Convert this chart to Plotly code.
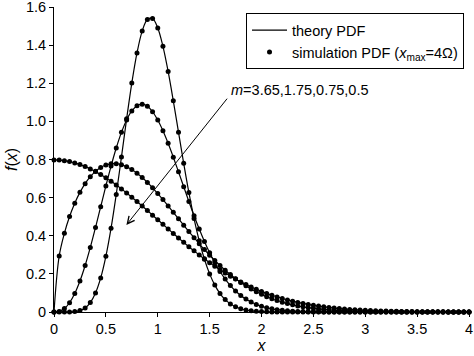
import plotly.graph_objects as go

# x grid (normalised envelope, Omega = 1)
x = [0.0, 0.05, 0.1, 0.15, 0.2, 0.25, 0.3, 0.35, 0.4, 0.45,
     0.5, 0.55, 0.6, 0.65, 0.7, 0.75, 0.8, 0.85, 0.9, 0.95,
     1.0, 1.05, 1.1, 1.15, 1.2, 1.25, 1.3, 1.35, 1.4, 1.45,
     1.5, 1.55, 1.6, 1.65, 1.7, 1.75, 1.8, 1.85, 1.9, 1.95,
     2.0, 2.05, 2.1, 2.15, 2.2, 2.25, 2.3, 2.35, 2.4, 2.45,
     2.5, 2.55, 2.6, 2.65, 2.7, 2.75, 2.8, 2.85, 2.9, 2.95,
     3.0, 3.05, 3.1, 3.15, 3.2, 3.25, 3.3, 3.35, 3.4, 3.45,
     3.5, 3.55, 3.6, 3.65, 3.7, 3.75, 3.8, 3.85, 3.9, 3.95,
     4.0]

pdf_m050 = [0.7979, 0.7969, 0.7939, 0.7890, 0.7821, 0.7733, 0.7628, 0.7505, 0.7365, 0.7211,
            0.7041, 0.6859, 0.6664, 0.6459, 0.6245, 0.6023, 0.5794, 0.5560, 0.5322, 0.5081,
            0.4839, 0.4598, 0.4357, 0.4119, 0.3884, 0.3653, 0.3427, 0.3208, 0.2995, 0.2789,
            0.2590, 0.2400, 0.2218, 0.2045, 0.1881, 0.1726, 0.1579, 0.1441, 0.1312, 0.1192,
            0.1080, 0.0976, 0.0880, 0.0791, 0.0709, 0.0635, 0.0567, 0.0504, 0.0448, 0.0397,
            0.0351, 0.0309, 0.0272, 0.0238, 0.0208, 0.0182, 0.0158, 0.0137, 0.0119, 0.0103,
            0.0089, 0.0076, 0.0065, 0.0056, 0.0048, 0.0041, 0.0034, 0.0029, 0.0025, 0.0021,
            0.0017, 0.0015, 0.0012, 0.0010, 0.0008, 0.0007, 0.0006, 0.0005, 0.0004, 0.0003,
            0.0003]

pdf_m075 = [0.0, 0.2936, 0.4128, 0.5009, 0.5709, 0.6276, 0.6734, 0.7099, 0.7378, 0.7580,
            0.7711, 0.7775, 0.7778, 0.7725, 0.7620, 0.7471, 0.7280, 0.7054, 0.6797, 0.6516,
            0.6213, 0.5896, 0.5567, 0.5231, 0.4893, 0.4556, 0.4222, 0.3896, 0.3578, 0.3273,
            0.2980, 0.2702, 0.2439, 0.2193, 0.1963, 0.1750, 0.1554, 0.1374, 0.1209, 0.1061,
            0.0926, 0.0805, 0.0698, 0.0602, 0.0517, 0.0443, 0.0377, 0.0320, 0.0271, 0.0228,
            0.0192, 0.0160, 0.0133, 0.0110, 0.0091, 0.0075, 0.0061, 0.0050, 0.0041, 0.0033,
            0.0027, 0.0021, 0.0017, 0.0014, 0.0011, 0.0009, 0.0007, 0.0005, 0.0004, 0.0003,
            0.0002, 0.0002, 0.0001, 0.0001, 0.0001, 0.0001, 0.0, 0.0, 0.0, 0.0,
            0.0]

pdf_m175 = [0.0, 0.0032, 0.0180, 0.0485, 0.0966, 0.1623, 0.2440, 0.3389, 0.4431, 0.5522,
            0.6614, 0.7656, 0.8605, 0.9423, 1.0077, 1.0547, 1.0822, 1.0900, 1.0789, 1.0505,
            1.0069, 0.9507, 0.8848, 0.8122, 0.7354, 0.6573, 0.5799, 0.5053, 0.4352, 0.3703,
            0.3112, 0.2588, 0.2126, 0.1728, 0.1389, 0.1104, 0.0869, 0.0677, 0.0522, 0.0396,
            0.0299, 0.0223, 0.0165, 0.0121, 0.0087, 0.0063, 0.0044, 0.0031, 0.0022, 0.0015,
            0.0010, 0.0007, 0.0004, 0.0003, 0.0002, 0.0001, 0.0001, 0.0, 0.0, 0.0,
            0.0, 0.0, 0.0, 0.0, 0.0, 0.0, 0.0, 0.0, 0.0, 0.0,
            0.0, 0.0, 0.0, 0.0, 0.0, 0.0, 0.0, 0.0, 0.0, 0.0,
            0.0]

pdf_m365 = [0.0, 0.0, 0.0, 0.0003, 0.0020, 0.0074, 0.0210, 0.0492, 0.0995, 0.1789,
            0.2921, 0.4397, 0.6167, 0.8128, 1.0133, 1.2011, 1.3593, 1.4737, 1.5349, 1.5395,
            1.4900, 1.3938, 1.2621, 1.1076, 0.9431, 0.7800, 0.6270, 0.4903, 0.3733, 0.2768,
            0.2000, 0.1410, 0.0969, 0.0650, 0.0426, 0.0272, 0.0170, 0.0104, 0.0062, 0.0036,
            0.0021, 0.0012, 0.0006, 0.0003, 0.0002, 0.0001, 0.0, 0.0, 0.0, 0.0,
            0.0, 0.0, 0.0, 0.0, 0.0, 0.0, 0.0, 0.0, 0.0, 0.0,
            0.0, 0.0, 0.0, 0.0, 0.0, 0.0, 0.0, 0.0, 0.0, 0.0,
            0.0, 0.0, 0.0, 0.0, 0.0, 0.0, 0.0, 0.0, 0.0, 0.0,
            0.0]

series = [pdf_m365, pdf_m175, pdf_m075, pdf_m050]

y_tickvals = [0, 0.2, 0.4, 0.6, 0.8, 1.0, 1.2, 1.4, 1.6]
y_ticktext = ["0", "0.2", "0.4", "0.6", "0.8", "1.0", "1.2", "1.4", "1.6"]
x_tickvals = [0, 0.5, 1, 1.5, 2, 2.5, 3, 3.5, 4]
x_ticktext = ["0", "0.5", "1", "1.5", "2", "2.5", "3", "3.5", "4"]

FONT = "Liberation Sans, Arial, sans-serif"
FS = 14.5

fig = go.Figure()
for i, s in enumerate(series):
    fig.add_trace(go.Scatter(
        x=x, y=s, mode="lines", line=dict(color="black", width=1.2, shape="spline"),
        name="theory PDF", showlegend=(i == 0), legendrank=1, cliponaxis=False))
for i, s in enumerate(series):
    fig.add_trace(go.Scatter(
        x=x, y=s, mode="markers", marker=dict(color="black", size=5),
        name="simulation PDF (<i>x</i><sub>max</sub>=4Ω)", showlegend=(i == 0),
        legendrank=2, cliponaxis=False))

fig.add_annotation(x=0.698, y=0.457, ax=1.68, ay=1.127, xref="x", yref="y",
                   axref="x", ayref="y", text="", showarrow=True,
                   arrowhead=5, arrowsize=1.4, arrowwidth=1, arrowcolor="black")
fig.add_annotation(x=1.69, y=1.165, xref="x", yref="y", xanchor="left", yanchor="middle",
                   text="<i>m</i>=3.65,1.75,0.75,0.5", showarrow=False,
                   font=dict(family=FONT, size=FS, color="black"))

fig.update_layout(
    width=474, height=356,
    margin=dict(l=54, r=5, t=7, b=44, autoexpand=False),
    paper_bgcolor="white", plot_bgcolor="white",
    font=dict(family=FONT, size=FS, color="black"),
    showlegend=True,
    legend=dict(x=0.988, y=0.98, xanchor="right", yanchor="top",
                bordercolor="black", borderwidth=1, bgcolor="white",
                font=dict(family=FONT, size=FS, color="black"),
                tracegroupgap=0, itemwidth=35),
    xaxis=dict(range=[0, 4], tickvals=x_tickvals, ticktext=x_ticktext,
               showgrid=False, zeroline=False, showline=True, linecolor="black",
               linewidth=1, ticks="outside", ticklen=4, tickcolor="black",
               automargin=False, ticklabeloverflow="allow",
               title=dict(text="<i>x</i>", standoff=0, font=dict(size=16))),
    yaxis=dict(range=[0, 1.6], tickvals=y_tickvals, ticktext=y_ticktext,
               showgrid=False, zeroline=False, showline=True, linecolor="black",
               linewidth=1, ticks="outside", ticklen=4, tickcolor="black",
               automargin=False, ticklabeloverflow="allow",
               title=dict(text="<i>f</i>(<i>x</i>)", standoff=4, font=dict(size=16))),
)

fig.write_html("out.html",
               config={"displayModeBar": False},
               post_script="document.body.style.margin='0px';document.body.style.overflow='hidden';")
